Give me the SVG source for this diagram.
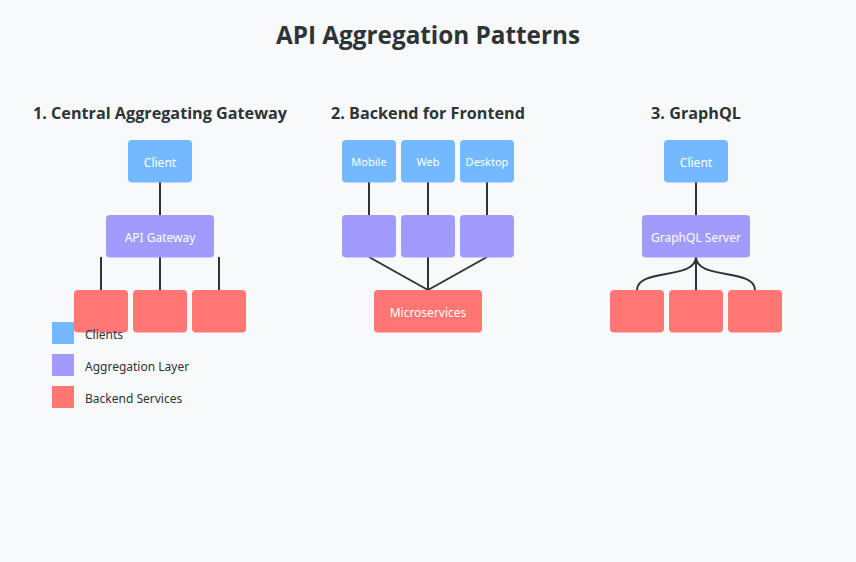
<svg xmlns="http://www.w3.org/2000/svg" width="856" height="562" viewBox="0 0 856 562">
<style>
.bg{fill:#f8f9fa}
.title{font-family:"Open Sans","Noto Sans","Liberation Sans",sans-serif;font-weight:700;fill:#2d3436;text-anchor:middle}
.h1{font-size:24.3px}
.h2{font-size:16.2px}
.cl{fill:#74b9ff}
.ag{fill:#a29bfe}
.be{fill:#ff7675}
.lbl{font-family:"Noto Sans","Open Sans","Liberation Sans",sans-serif;font-size:12px;fill:#ffffff;text-anchor:middle}
.sm{font-size:11px}
.leg{font-family:"Noto Sans","Open Sans","Liberation Sans",sans-serif;font-size:12px;fill:#2d3436}
.ln{stroke:#2d3436;stroke-width:2;fill:none}
</style>
<rect class="bg" x="0" y="0" width="856" height="562"/>
<text class="title h1" x="428" y="44">API Aggregation Patterns</text>
<text class="title h2" x="160" y="119">1. Central Aggregating Gateway</text>
<text class="title h2" x="428" y="119">2. Backend for Frontend</text>
<text class="title h2" x="696" y="119">3. GraphQL</text>
<g id="connectors">
<line class="ln" x1="160" y1="182" x2="160" y2="215"/>
<line class="ln" x1="101" y1="257" x2="101" y2="290"/>
<line class="ln" x1="160" y1="257" x2="160" y2="290"/>
<line class="ln" x1="219" y1="257" x2="219" y2="290"/>
<line class="ln" x1="369" y1="182" x2="369" y2="215"/>
<line class="ln" x1="428" y1="182" x2="428" y2="215"/>
<line class="ln" x1="487" y1="182" x2="487" y2="215"/>
<line class="ln" x1="369" y1="257" x2="428" y2="290"/>
<line class="ln" x1="428" y1="257" x2="428" y2="290"/>
<line class="ln" x1="487" y1="257" x2="428" y2="290"/>
<line class="ln" x1="696" y1="182" x2="696" y2="215"/>
<path class="ln" d="M696,257 C696,280 637,268 637,290"/>
<line class="ln" x1="696" y1="257" x2="696" y2="290"/>
<path class="ln" d="M696,257 C696,280 755,268 755,290"/>
</g>
<g id="p1-client"><rect class="cl" x="128" y="140" width="64" height="42.5" rx="4"/><text class="lbl" x="160" y="166.5">Client</text></g>
<g id="p1-gateway"><rect class="ag" x="106" y="215" width="108" height="42.5" rx="4"/><text class="lbl" x="160" y="241.5">API Gateway</text></g>
<g id="p1-svc1"><rect class="be" x="74" y="290" width="54" height="42.5" rx="4"/></g>
<g id="p1-svc2"><rect class="be" x="133" y="290" width="54" height="42.5" rx="4"/></g>
<g id="p1-svc3"><rect class="be" x="192" y="290" width="54" height="42.5" rx="4"/></g>
<g id="p2-mobile"><rect class="cl" x="342" y="140" width="54" height="42.5" rx="4"/><text class="lbl sm" x="369" y="166">Mobile</text></g>
<g id="p2-web"><rect class="cl" x="401" y="140" width="54" height="42.5" rx="4"/><text class="lbl sm" x="428" y="166">Web</text></g>
<g id="p2-desktop"><rect class="cl" x="460" y="140" width="54" height="42.5" rx="4"/><text class="lbl sm" x="487" y="166">Desktop</text></g>
<g id="p2-bff1"><rect class="ag" x="342" y="215" width="54" height="42.5" rx="4"/></g>
<g id="p2-bff2"><rect class="ag" x="401" y="215" width="54" height="42.5" rx="4"/></g>
<g id="p2-bff3"><rect class="ag" x="460" y="215" width="54" height="42.5" rx="4"/></g>
<g id="p2-micro"><rect class="be" x="374" y="290" width="108" height="42.5" rx="4"/><text class="lbl" x="428" y="316.5">Microservices</text></g>
<g id="p3-client"><rect class="cl" x="664" y="140" width="64" height="42.5" rx="4"/><text class="lbl" x="696" y="166.5">Client</text></g>
<g id="p3-server"><rect class="ag" x="642" y="215" width="108" height="42.5" rx="4"/><text class="lbl" x="696" y="241.5">GraphQL Server</text></g>
<g id="p3-svc1"><rect class="be" x="610" y="290" width="54" height="42.5" rx="4"/></g>
<g id="p3-svc2"><rect class="be" x="669" y="290" width="54" height="42.5" rx="4"/></g>
<g id="p3-svc3"><rect class="be" x="728" y="290" width="54" height="42.5" rx="4"/></g>
<g id="legend">
<rect class="cl" x="52" y="322" width="22" height="22"/><text class="leg" x="85" y="338.5">Clients</text>
<rect class="ag" x="52" y="354" width="22" height="22"/><text class="leg" x="85" y="370.5">Aggregation Layer</text>
<rect class="be" x="52" y="386" width="22" height="22"/><text class="leg" x="85" y="402.5">Backend Services</text>
</g>
</svg>
